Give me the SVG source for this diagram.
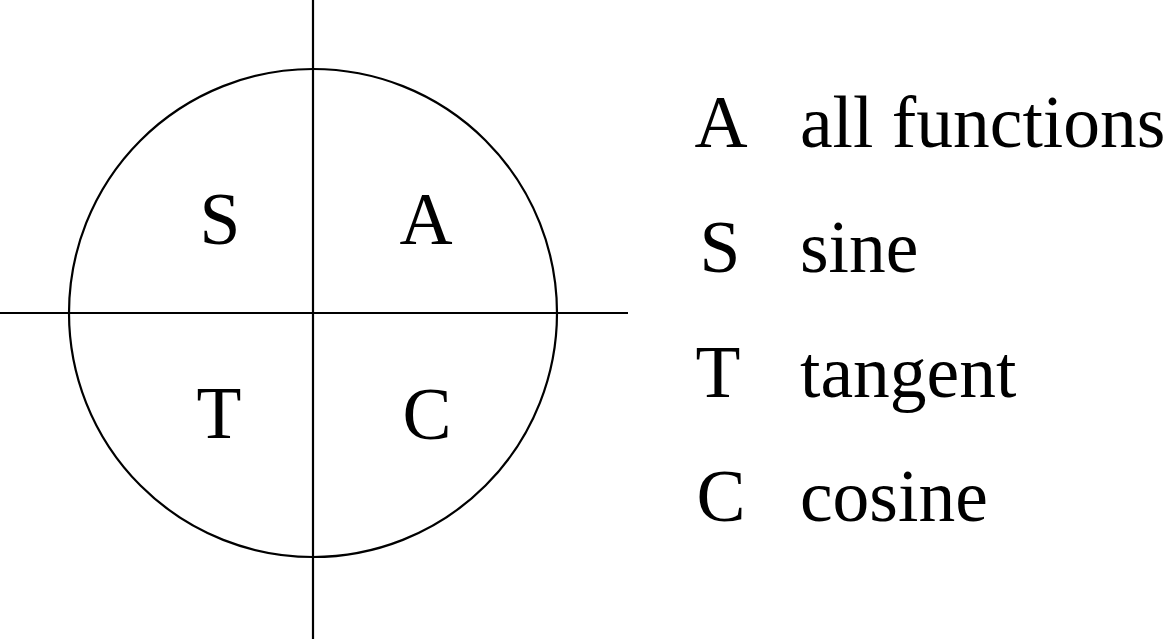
<svg xmlns="http://www.w3.org/2000/svg" width="1169" height="639" viewBox="0 0 1169 639">
<style>
.ln{stroke:#000;stroke-width:2.2;fill:none}
.t{font-family:"Liberation Serif","Times New Roman",serif;font-size:73.5px;fill:#000}
.c{text-anchor:middle}
</style>
<rect width="1169" height="639" fill="#fff"/>
<g id="circle"><circle class="ln" cx="313" cy="313" r="244"/></g>
<g id="axes">
<line class="ln" x1="313" y1="0" x2="313" y2="639"/>
<line class="ln" x1="0" y1="313" x2="628" y2="313"/>
</g>
<g id="quadrants">
<text class="t c" x="220" y="244">S</text>
<text class="t c" x="426" y="244">A</text>
<text class="t c" x="219" y="438">T</text>
<text class="t c" x="427" y="439">C</text>
</g>
<g id="legend">
<text class="t c" x="721" y="147">A</text>
<text class="t" x="800" y="147">all functions</text>
<text class="t c" x="720" y="272">S</text>
<text class="t" x="800" y="272">sine</text>
<text class="t c" x="718" y="397">T</text>
<text class="t" x="800" y="397">tangent</text>
<text class="t c" x="721" y="521">C</text>
<text class="t" x="800" y="521">cosine</text>
</g>
</svg>
